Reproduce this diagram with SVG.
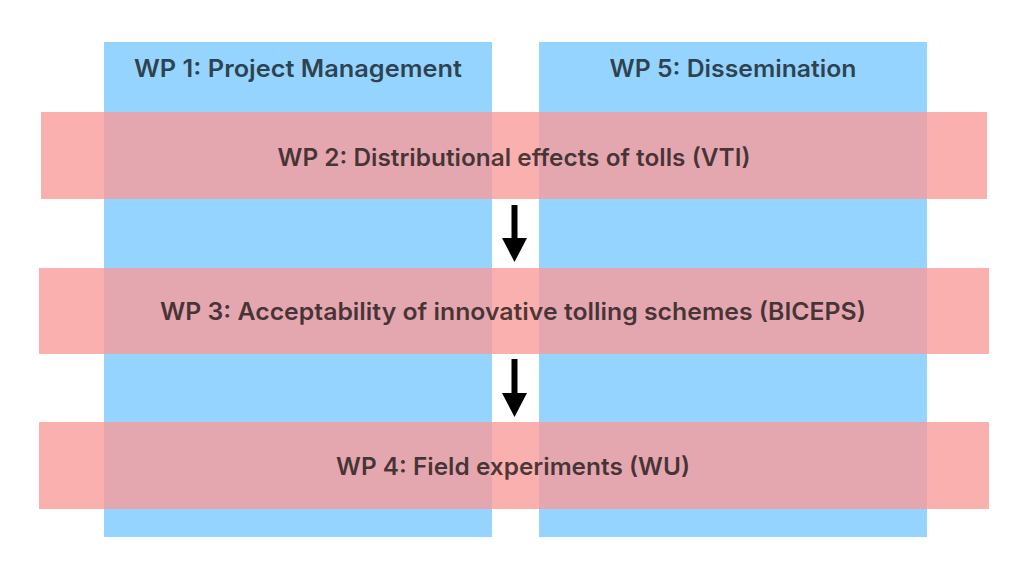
<svg xmlns="http://www.w3.org/2000/svg" width="1011" height="583" viewBox="0 0 1011 583">
<style>
.col{fill:#95d4fe;}
.row{fill:#f99b99;fill-opacity:0.79;}
.lbl{font-family:Inter,"Liberation Sans",Arial,sans-serif;font-weight:600;font-size:24px;fill:#000;fill-opacity:0.7;text-anchor:middle;}
.arr{stroke:#000;stroke-width:6;fill:none;}
.head{fill:#000;}
</style>
<rect width="1011" height="583" fill="#fff"/>
<g id="wp1">
<rect class="col" x="104" y="42" width="388" height="495"/>
<text class="lbl" x="298" y="76.5" textLength="328" lengthAdjust="spacingAndGlyphs">WP 1: Project Management</text>
</g>
<g id="wp5">
<rect class="col" x="539" y="42" width="388" height="495"/>
<text class="lbl" x="733" y="76.5" textLength="247" lengthAdjust="spacingAndGlyphs">WP 5: Dissemination</text>
</g>
<g id="wp2">
<rect class="row" x="41" y="112" width="946" height="87"/>
<text class="lbl" x="514" y="165.5" textLength="473" lengthAdjust="spacingAndGlyphs">WP 2: Distributional effects of tolls (VTI)</text>
</g>
<g id="wp3">
<rect class="row" x="39" y="268" width="950" height="86"/>
<text class="lbl" x="513" y="320" textLength="706" lengthAdjust="spacingAndGlyphs">WP 3: Acceptability of innovative tolling schemes (BICEPS)</text>
</g>
<g id="wp4">
<rect class="row" x="39" y="422" width="950" height="87"/>
<text class="lbl" x="513" y="474.5" textLength="354" lengthAdjust="spacingAndGlyphs">WP 4: Field experiments (WU)</text>
</g>
<g id="connectors">
<line class="arr" x1="514.5" y1="205" x2="514.5" y2="240"/>
<path class="head" d="M502,238 L527,238 L514.5,262 Z"/>
<line class="arr" x1="514.5" y1="359" x2="514.5" y2="394"/>
<path class="head" d="M502,393 L527,393 L514.5,417 Z"/>
</g>
</svg>
